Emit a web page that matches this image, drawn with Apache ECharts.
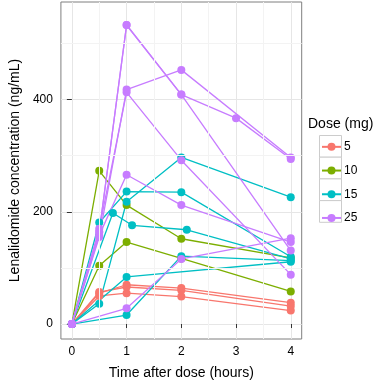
<!DOCTYPE html>
<html><head><meta charset="utf-8">
<script src="https://cdn.jsdelivr.net/npm/echarts@6/dist/echarts.min.js"></script>
<style>html,body{margin:0;padding:0;background:#fff}#c{width:387px;height:385px}</style>
</head><body><div id="c"></div>
<script>
// ---- data ----
const doses = ['5', '10', '15', '25'];
const doseColors = ['#F8766D', '#7CAE00', '#00BFC4', '#C77CFF'];
const xTicks = [0, 1, 2, 3, 4];
const yTicks = [0, 200, 400];
const xMinor = [0.5, 1.5, 2.5, 3.5];
const yMinor = [100, 300, 500];

// one entry per subject
const subjDose = ['5', '5', '5', '10', '10', '15', '15', '15', '15', '15', '25', '25', '25', '25', '25', '25'];
const subjTime = [
  [0, 0.5, 1, 2, 4],
  [0, 0.5, 1, 2, 4],
  [0, 0.5, 1, 2, 4],
  [0, 0.5, 1, 2, 4],
  [0, 0.5, 1, 2, 4],
  [0, 0.5, 1, 2, 4],
  [0, 0.75, 1.1, 2.1, 4],
  [0, 0.5, 1, 2, 4],
  [0, 1, 4],
  [0, 1, 2, 4],
  [0, 0.5, 1, 2, 4],
  [0, 0.5, 1, 2, 4],
  [0, 0.5, 1, 2, 4],
  [0, 0.5, 1, 2, 4],
  [0, 1, 2, 4],
  [0, 0.5, 1, 2, 3, 4]
];
const subjConc = [
  [0, 55, 70, 64, 38],
  [0, 50, 55, 49, 24],
  [0, 57, 66, 60, 32],
  [0, 273, 212, 152, 118],
  [0, 104, 146, 117, 58],
  [0, 181, 236, 235, 120],
  [0, 198, 176, 168, 116],
  [0, 36, 218, 297, 226],
  [0, 84, 111],
  [0, 16, 121, 113],
  [0, 164, 533, 409, 131],
  [0, 155, 418, 453, 297],
  [0, 170, 413, 292, 88],
  [0, 158, 266, 212, 146],
  [0, 28, 116, 153],
  [0, 164, 533, 409, 367, 294]
];

// ---- layout ----
const FONT = 'Liberation Sans, Arial, Helvetica, sans-serif';
const gridL = 51, gridT = 2, gridW = 250.7, gridH = 338;
const legL = 319, legT = 135, keyW = 22, keyH = 21.7;

const series = [];
series.push({
  type: 'line', data: [], silent: true, z: 1, animation: false,
  markLine: {
    silent: true, symbol: 'none', animation: false,
    label: { show: false },
    lineStyle: { color: '#f3f3f3', width: 1, type: 'solid' },
    emphasis: { disabled: true },
    data: xMinor.map(v => ({ xAxis: v })).concat(yMinor.map(v => ({ yAxis: v })))
  }
});
// lines (one per subject)
subjDose.forEach((d, i) => {
  const c = doseColors[doses.indexOf(d)];
  series.push({
    type: 'line', name: d,
    data: subjTime[i].map((t, j) => [t, subjConc[i][j]]),
    symbol: 'circle', symbolSize: 8, showSymbol: false,
    lineStyle: { color: c, width: 1.3 },
    itemStyle: { color: c },
    emphasis: { disabled: true }, silent: true,
    clip: false, z: 3, animation: false
  });
});
// points (one layer per dose, drawn above all lines)
doses.forEach((d, k) => {
  const pts = [];
  subjDose.forEach((sd, i) => {
    if (sd === d) subjTime[i].forEach((t, j) => pts.push([t, subjConc[i][j]]));
  });
  series.push({
    type: 'scatter', name: d, data: pts,
    symbol: 'circle', symbolSize: 8,
    itemStyle: { color: doseColors[k], opacity: 1 },
    emphasis: { disabled: true }, silent: true,
    clip: false, z: 4, animation: false
  });
});

const keyRects = doses.map((d, i) => ({
  type: 'rect', z: 1,
  shape: { x: legL + 0.5, y: legT + i * keyH + 0.5, width: keyW, height: keyH },
  style: { fill: '#ffffff', stroke: '#cccccc', lineWidth: 1 }
}));

const chart = echarts.init(document.getElementById('c'), null, { renderer: 'canvas' });
chart.setOption({
  animation: false,
  backgroundColor: '#ffffff',
  textStyle: { fontFamily: FONT },
  title: {
    text: 'Dose (mg)', left: 308, top: 117, padding: 0,
    textStyle: { fontSize: 14, fontWeight: 'normal', color: '#000', fontFamily: FONT }
  },
  graphic: keyRects,
  legend: {
    data: doses, orient: 'vertical', left: legL + 2, top: legT + (keyH - 10) / 2,
    padding: 0, itemWidth: 19, itemHeight: 10, itemGap: keyH - 10, z: 5,
    selectedMode: false,
    textStyle: { fontSize: 12, color: '#000', fontFamily: FONT, padding: [0, 0, 0, -2] }
  },
  grid: {
    left: gridL, top: gridT, width: gridW, height: gridH,
    show: true, backgroundColor: '#ffffff', borderColor: '#7f7f7f', borderWidth: 1
  },
  xAxis: {
    type: 'value', min: -0.2, max: 4.2, splitNumber: 5,
    axisLine: { show: false },
    axisTick: { show: true, length: 4, customValues: xTicks, lineStyle: { color: '#333' } },
    axisLabel: {
      customValues: xTicks, margin: 7, fontSize: 12, color: '#000', fontFamily: FONT,
      formatter: v => (xTicks.includes(v) ? String(v) : '')
    },
    splitLine: { show: true, lineStyle: { color: '#e6e6e6', width: 1 } },
    name: 'Time after dose (hours)', nameLocation: 'middle', nameGap: 27,
    nameTextStyle: { fontSize: 14, color: '#000', fontFamily: FONT }
  },
  yAxis: {
    type: 'value', min: -26.7, max: 574, splitNumber: 3,
    axisLine: { show: false },
    axisTick: { show: true, length: 5, customValues: yTicks, lineStyle: { color: '#333' } },
    axisLabel: {
      customValues: yTicks, margin: 8, fontSize: 12, color: '#000', fontFamily: FONT,
      formatter: v => (yTicks.includes(v) ? String(v) : '')
    },
    splitLine: { show: true, lineStyle: { color: '#e6e6e6', width: 1 } },
    name: 'Lenalidomide concentration (ng/mL)', nameLocation: 'middle', nameGap: 36,
    nameTextStyle: { fontSize: 14, color: '#000', fontFamily: FONT }
  },
  series: series
});
</script></body></html>
